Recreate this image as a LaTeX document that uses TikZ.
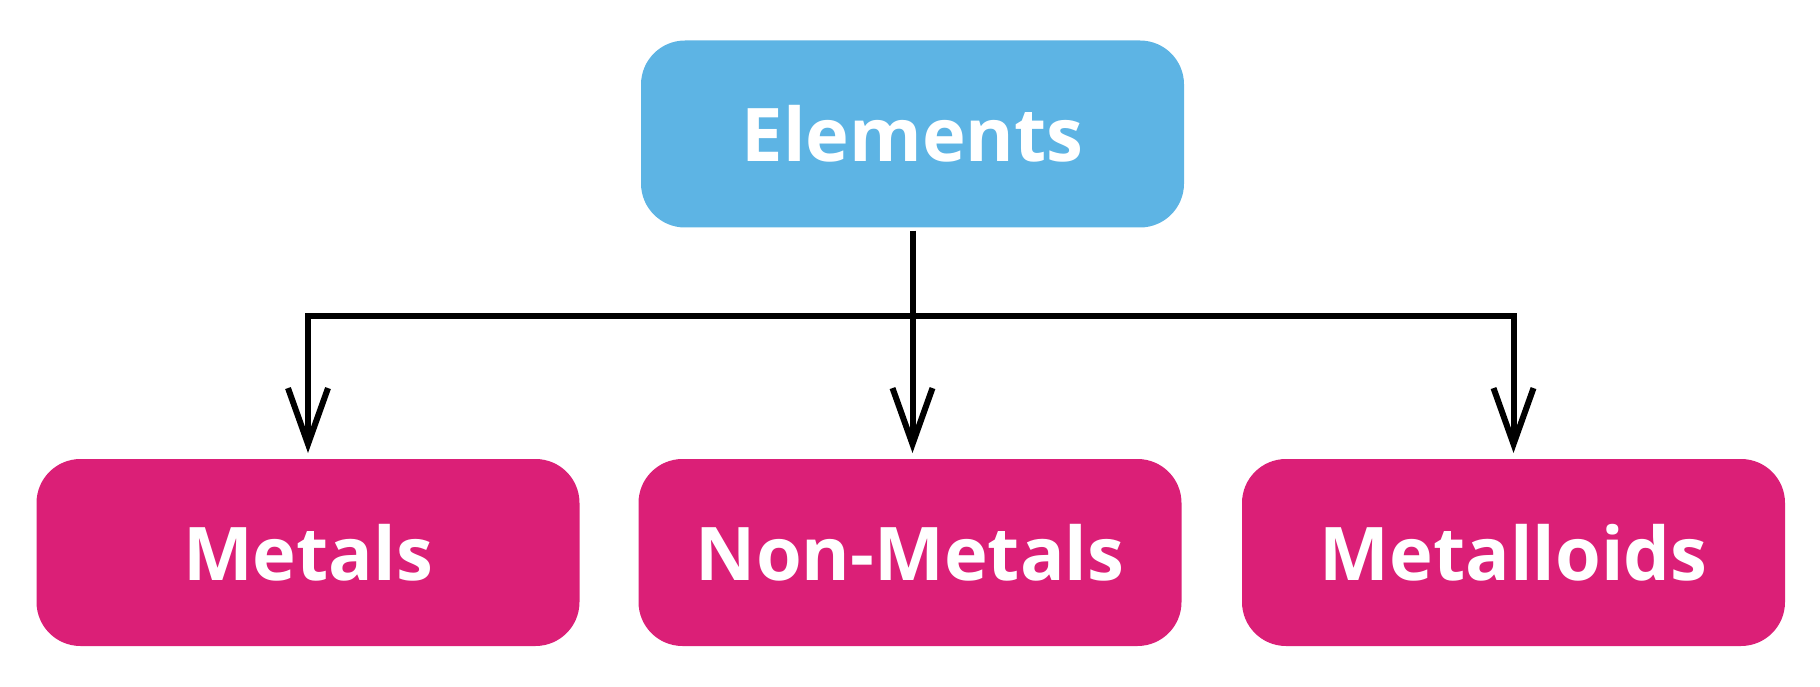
\documentclass[tikz,border=0pt]{standalone}
\usepackage{fontspec}
\setmainfont{Open Sans}
\usetikzlibrary{arrows.meta}
\definecolor{topblue}{RGB}{93,180,228}
\definecolor{kindpink}{RGB}{219,31,119}

\begin{document}
\begin{tikzpicture}[x=1pt, y=-1pt, line width=6pt,
  >={Straight Barb[length=56pt, width=40pt]},
  box/.style={rectangle, rounded corners=44pt, text=white,
    font=\fontsize{74}{80}\selectfont\bfseries,
    minimum width=543pt, minimum height=187pt, inner sep=0pt}]
  \useasboundingbox (0,0) rectangle (1820,687);

  \node[box, fill=topblue] (elements) at (912.5,134) {Elements};
  \node[box, fill=kindpink] (metals) at (308,552.5) {Metals};
  \node[box, fill=kindpink] (nonmetals) at (910,552.5) {Non-Metals};
  \node[box, fill=kindpink] (metalloids) at (1513.5,552.5) {Metalloids};

  \coordinate (bus) at (912.5,316);
  \draw (elements.south) -- (bus);
  \draw[->, shorten >=3pt] (bus) -| (metals.north);
  \draw[->, shorten >=3pt] (bus) -- (bus |- nonmetals.north);
  \draw[->, shorten >=3pt] (bus) -| (metalloids.north);
\end{tikzpicture}
\end{document}
